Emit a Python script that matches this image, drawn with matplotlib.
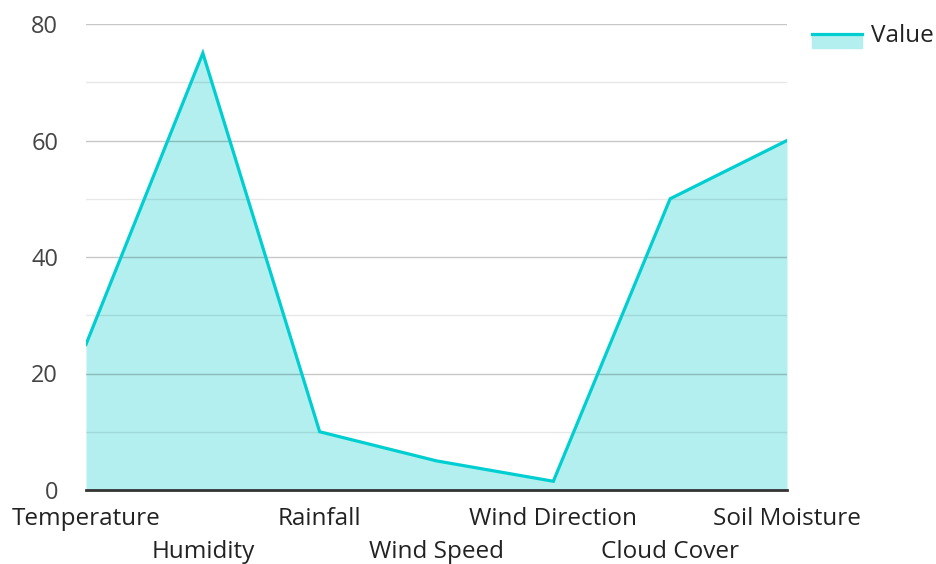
import matplotlib
matplotlib.use("Agg")
import matplotlib.pyplot as plt
from matplotlib.lines import Line2D
from matplotlib.patches import Rectangle

plt.rcParams['font.family'] = ['Open Sans', 'DejaVu Sans']

categories = ["Temperature", "Humidity", "Rainfall", "Wind Speed",
              "Wind Direction", "Cloud Cover", "Soil Moisture"]
values = [25, 75, 10, 5, 1.5, 50, 60]
major_ticks = [0, 20, 40, 60, 80]
minor_ticks = [10, 30, 50, 70]

line_color = "#00CED1"
fill_color = "#B2EFEE"
text_color = "#444444"

W, H = 936, 564
fig = plt.figure(figsize=(W / 100, H / 100), dpi=100)
ax = fig.add_axes([86 / W, 1 - 490 / H, (787 - 86) / W, (490 - 24) / H])

x = list(range(len(categories)))
ax.fill_between(x, values, 0, color=fill_color, zorder=1, linewidth=0)
ax.plot(x, values, color=line_color, linewidth=2.3, zorder=3,
        solid_joinstyle="miter")

ax.set_xlim(0, len(categories) - 1)
ax.set_ylim(0, 80)

# gridlines: darker at labelled ticks, lighter in between
for v in major_ticks[1:]:
    ax.axhline(v, color="#000000", alpha=0.22, linewidth=1, zorder=2)
for v in minor_ticks:
    ax.axhline(v, color="#000000", alpha=0.09, linewidth=1, zorder=2)
ax.axhline(0, color="#333333", linewidth=2, zorder=4, clip_on=False)

ax.set_yticks(major_ticks)
ax.set_yticklabels([str(t) for t in major_ticks])
ax.set_xticks(x)
ax.set_xticklabels([])
ax.tick_params(length=0, labelsize=17, labelcolor=text_color)
ax.tick_params(axis="y", pad=20)

# staggered category labels
for i, name in enumerate(categories):
    offset = -29 if i % 2 == 0 else -62
    ax.annotate(name, (i, 0), xytext=(0, offset), textcoords="offset pixels",
                ha="center", va="center", fontsize=17.5, color="#222222",
                annotation_clip=False)

for s in ax.spines.values():
    s.set_visible(False)

# legend: line over a filled swatch
lx0, lx1, ly = 812 / W, 862 / W, 1 - 34 / H
fig.patches.append(Rectangle((lx0, 1 - 48 / H), lx1 - lx0, 14 / H,
                             transform=fig.transFigure, color=fill_color))
fig.lines.append(Line2D([lx0, lx1], [ly, ly], transform=fig.transFigure,
                        color=line_color, linewidth=2.3))
fig.text(871 / W, 1 - 36 / H, "Value", ha="left", va="center",
         fontsize=17.5, color="#222222")

fig.savefig("out.png", dpi=100)
